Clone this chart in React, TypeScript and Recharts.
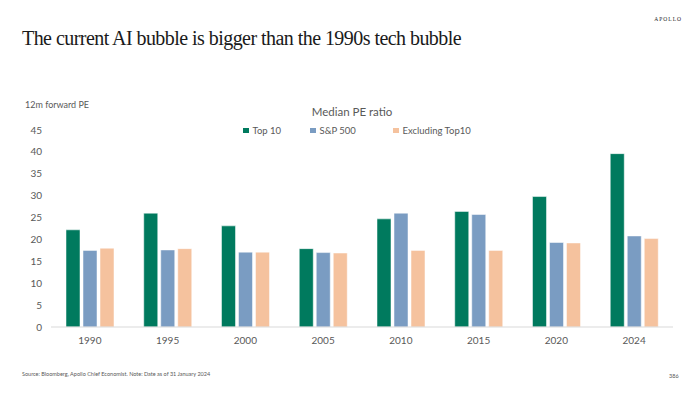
import React from "react";
import { BarChart, Bar, XAxis, YAxis } from "recharts";

// ─── Data ──────────────────────────────────────────────────────────────────────

const YEARS = ["1990", "1995", "2000", "2005", "2010", "2015", "2020", "2024"];
const TOP10 = [22.2, 26.0, 23.1, 17.9, 24.7, 26.4, 29.8, 39.6];
const SP500 = [17.5, 17.6, 17.1, 17.0, 26.0, 25.7, 19.3, 20.8];
const EXCL_TOP10 = [18.0, 17.9, 17.1, 16.9, 17.5, 17.5, 19.2, 20.2];
const Y_TICKS = [0, 5, 10, 15, 20, 25, 30, 35, 40, 45];

const data = YEARS.map((year, i) => ({
  year,
  top10: TOP10[i],
  sp500: SP500[i],
  excl: EXCL_TOP10[i],
}));

// ─── Styles ────────────────────────────────────────────────────────────────────

const SANS = "Lato, 'Open Sans', sans-serif";
const SERIF = "'Liberation Serif', 'DejaVu Serif', serif";
const TEXT_GREY = "#595959";
const GREEN = "#007a5e";
const BLUE = "#7a9cc2";
const PEACH = "#f5c29e";
const TICK = { fontSize: 10, fill: TEXT_GREY, fontFamily: SANS } as const;

const SERIES = [
  { key: "top10", label: "Top 10", color: GREEN, w: 67 },
  { key: "sp500", label: "S&P 500", color: BLUE, w: 83 },
  { key: "excl", label: "Excluding Top10", color: PEACH, w: 80 },
];

// Legend drawn as plain HTML so it doesn't push the plot area down
function LegendRow() {
  return (
    <div style={{ position: "absolute", left: 243, top: 125, display: "flex", alignItems: "center", fontFamily: SANS, fontSize: 9.5, color: TEXT_GREY }}>
      {SERIES.map((s) => (
        <div key={s.key} style={{ display: "flex", alignItems: "center", width: s.w }}>
          <span style={{ display: "inline-block", width: 5.5, height: 5.5, background: s.color, marginRight: 4 }} />
          {s.label}
        </div>
      ))}
    </div>
  );
}

export default function App() {
  return (
    <div style={{ position: "relative", width: 700, height: 393, margin: -8, background: "#fff", overflow: "hidden" }}>
      <div style={{ position: "absolute", right: 18, top: 16, fontFamily: SERIF, fontSize: 5.5, letterSpacing: 1, color: "#222" }}>
        APOLLO
      </div>
      <div style={{ position: "absolute", left: 22, top: 27, fontFamily: SERIF, fontSize: 20, color: "#1a1a1a", letterSpacing: -0.55, whiteSpace: "nowrap" }}>
        The current AI bubble is bigger than the 1990s tech bubble
      </div>
      <div style={{ position: "absolute", left: 25, top: 99, fontFamily: SANS, fontSize: 9, color: TEXT_GREY }}>
        12m forward PE
      </div>
      <div style={{ position: "absolute", left: 0, width: 704, top: 105, textAlign: "center", fontFamily: SANS, fontSize: 11.5, color: TEXT_GREY }}>
        Median PE ratio
      </div>
      <LegendRow />

      <BarChart
        width={700}
        height={393}
        data={data}
        margin={{ top: 130, right: 27, bottom: 36, left: 0 }}
        barSize={14}
        barGap={3}
      >
        <XAxis
          dataKey="year"
          tick={TICK}
          tickLine={false}
          tickMargin={4}
          axisLine={{ stroke: "#d9d9d9" }}
        />
        <YAxis
          width={51}
          domain={[0, 45]}
          ticks={Y_TICKS}
          tick={TICK}
          tickLine={false}
          axisLine={false}
          tickMargin={3}
          interval={0}
        />
        {SERIES.map((s) => (
          <Bar key={s.key} dataKey={s.key} fill={s.color} stroke="#ffffff" strokeWidth={0.5} isAnimationActive={false} />
        ))}
      </BarChart>

      <div style={{ position: "absolute", left: 22, top: 371, fontFamily: SANS, fontSize: 5.5, color: TEXT_GREY }}>
        Source: Bloomberg, Apollo Chief Economist. Note: Date as of 31 January 2024
      </div>
      <div style={{ position: "absolute", left: 669, top: 373, fontFamily: SANS, fontSize: 5.5, color: TEXT_GREY }}>
        386
      </div>
    </div>
  );
}
